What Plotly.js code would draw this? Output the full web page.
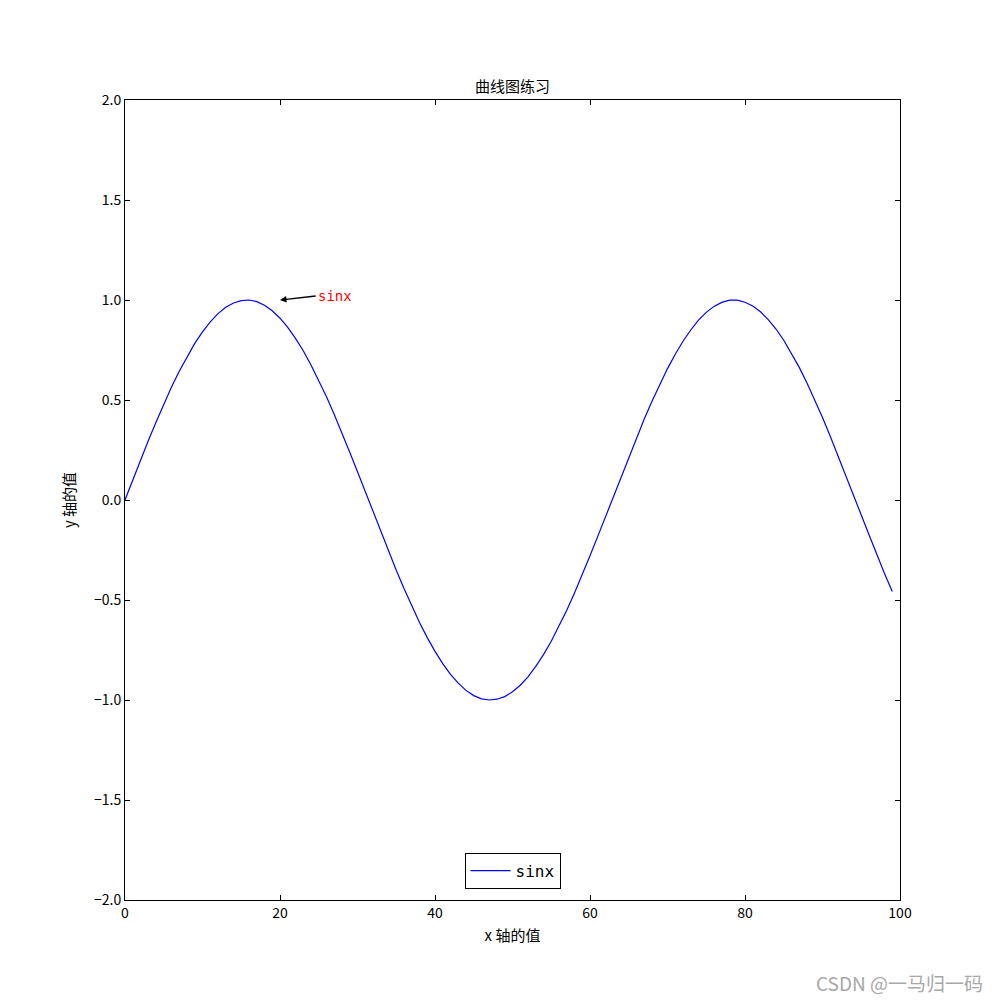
<!DOCTYPE html>
<html>
<head>
<meta charset="utf-8">
<script src="https://cdn.plot.ly/plotly-3.0.1.min.js"></script>
<style>html,body{margin:0;padding:0;background:#fff;}#chart{width:1000px;height:1000px;}</style>
</head>
<body>
<div id="chart"></div>
<script>
const xValues = [0,1,2,3,4,5,6,7,8,9,10,11,12,13,14,15,16,17,18,19,20,21,22,23,24,25,26,27,28,29,30,31,32,33,34,35,36,37,38,39,40,41,42,43,44,45,46,47,48,49,50,51,52,53,54,55,56,57,58,59,60,61,62,63,64,65,66,67,68,69,70,71,72,73,74,75,76,77,78,79,80,81,82,83,84,85,86,87,88,89,90,91,92,93,94,95,96,97,98,99];
const sinValues = [0.000,0.100,0.199,0.296,0.389,0.479,0.565,0.644,0.717,0.783,
  0.841,0.891,0.932,0.964,0.985,0.997,1.000,0.992,0.974,0.946,
  0.909,0.863,0.808,0.746,0.675,0.598,0.516,0.427,0.335,0.239,
  0.141,0.042,-0.058,-0.158,-0.256,-0.351,-0.443,-0.530,-0.612,-0.688,
  -0.757,-0.818,-0.872,-0.916,-0.952,-0.978,-0.994,-1.000,-0.996,-0.983,
  -0.959,-0.926,-0.884,-0.832,-0.773,-0.706,-0.631,-0.551,-0.465,-0.374,
  -0.279,-0.182,-0.083,0.017,0.117,0.215,0.312,0.405,0.494,0.578,
  0.657,0.729,0.794,0.850,0.899,0.938,0.968,0.988,0.999,0.999,
  0.989,0.970,0.941,0.902,0.855,0.799,0.734,0.663,0.585,0.501,
  0.412,0.319,0.223,0.125,0.025,-0.075,-0.174,-0.272,-0.367,-0.457];
const seriesName = 'sinx';
const chartTitle = '曲线图练习';
const xTitle = 'x 轴的值';
const yTitle = 'y 轴的值';
const annotText = 'sinx';
const annotPoint = [20, 1.0];
const annotTextPos = [24.6, 1.02];
const watermark = 'CSDN @一马归一码';

const baseFont = '"Noto Sans CJK SC", "DejaVu Sans", sans-serif';
const monoFont = '"DejaVu Sans Mono", "Noto Sans CJK SC", monospace';

const axisCommon = {
  showline: true, linecolor: '#000', linewidth: 1, mirror: 'ticks',
  ticks: 'inside', ticklen: 5, tickcolor: '#000', tickwidth: 1,
  showgrid: false, zeroline: false,
  tickfont: {family: baseFont, size: 14, color: '#000'}
};

const trace = {
  x: xValues, y: sinValues, type: 'scatter', mode: 'lines',
  name: seriesName, line: {color: '#0000ff', width: 1.2}
};

const layout = {
  width: 1000, height: 1000,
  margin: {l: 125, r: 100, t: 100, b: 100},
  paper_bgcolor: '#fff', plot_bgcolor: '#fff',
  title: {text: chartTitle, font: {family: baseFont, size: 15, color: '#000'},
          x: 0.5, xref: 'paper', y: 0.913, yref: 'container', yanchor: 'middle'},
  xaxis: Object.assign({}, axisCommon, {
    range: [0, 100], dtick: 20, tick0: 0,
    title: {text: xTitle, font: {family: baseFont, size: 15, color: '#000'}, standoff: 9}
  }),
  yaxis: Object.assign({}, axisCommon, {
    range: [-2, 2], dtick: 0.5, tick0: 0, tickformat: '.1f',
    title: {text: yTitle, font: {family: baseFont, size: 15, color: '#000'}, standoff: 14}
  }),
  showlegend: true,
  legend: {
    x: 0.5, xanchor: 'center', y: 0.014, yanchor: 'bottom',
    bordercolor: '#000', borderwidth: 1, bgcolor: '#fff',
    entrywidth: 108, entrywidthmode: 'pixels', itemwidth: 40,
    font: {family: monoFont, size: 16, color: '#000'}
  },
  annotations: [
    {x: annotPoint[0], y: annotPoint[1], xref: 'x', yref: 'y',
     ax: annotTextPos[0], ay: annotTextPos[1], axref: 'x', ayref: 'y',
     text: annotText, xanchor: 'left', yanchor: 'middle',
     font: {family: monoFont, size: 14, color: '#ff0000'},
     showarrow: true, arrowhead: 2, arrowsize: 1, arrowwidth: 1.3, arrowcolor: '#000'},
    {x: 1.11, y: -0.1025, xref: 'paper', yref: 'paper', xanchor: 'right', yanchor: 'middle',
     text: watermark, showarrow: false,
     font: {family: baseFont, size: 19, color: '#a8a8a8'}}
  ]
};

Plotly.newPlot('chart', [trace], layout, {displayModeBar: false, staticPlot: true});
</script>
</body>
</html>
